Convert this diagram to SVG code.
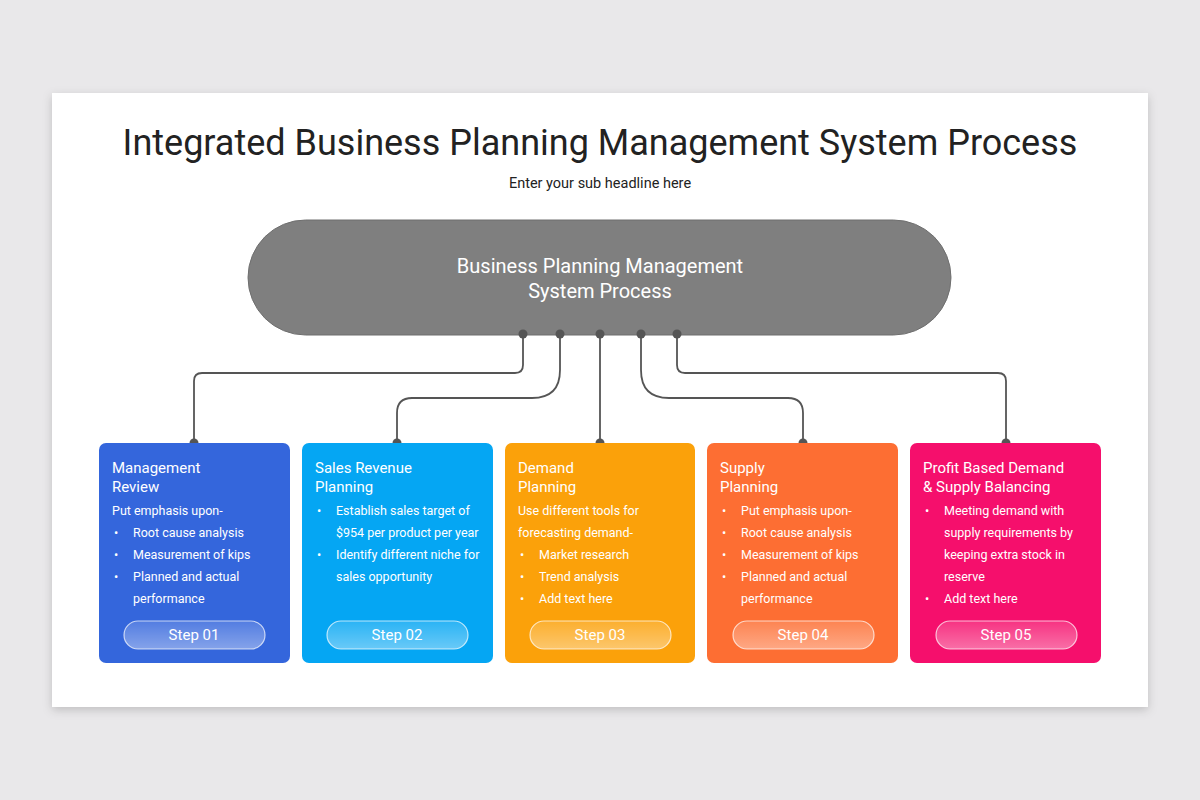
<svg xmlns="http://www.w3.org/2000/svg" width="1200" height="800" viewBox="0 0 1200 800">
<defs>
<filter id="sh" x="-5%" y="-5%" width="110%" height="115%"><feDropShadow dx="0" dy="3" stdDeviation="5" flood-color="#000" flood-opacity="0.18"/></filter>
<linearGradient id="pill" x1="0" y1="0" x2="0" y2="1"><stop offset="0" stop-color="#fff" stop-opacity="0.15"/><stop offset="1" stop-color="#fff" stop-opacity="0.4"/></linearGradient>
</defs>
<style>
text{font-family:Roboto,"Liberation Sans",sans-serif}
.t{fill:#fff;font-size:15px}
.b{fill:#fff;font-size:12.5px}
.s{fill:#fff;font-size:15px;text-anchor:middle}
.pl{fill:url(#pill);stroke:#fff;stroke-opacity:0.7;stroke-width:1.2}
.c{fill:none;stroke:#555;stroke-width:1.8}
.d{fill:#555}
</style>
<rect width="1200" height="800" fill="#e9e8ea"/>
<rect x="52" y="93" width="1096" height="614" fill="#fff" filter="url(#sh)"/>
<text x="600" y="155" text-anchor="middle" font-size="36" fill="#222">Integrated Business Planning Management System Process</text>
<text x="600" y="188" text-anchor="middle" font-size="14.5" fill="#222">Enter your sub headline here</text>
<g id="hub">
<rect x="248" y="220" width="703" height="115" rx="57.5" fill="#7f7f7f" stroke="#6f6f6f"/>
<text x="600" y="273" text-anchor="middle" font-size="20" fill="#fff">Business Planning Management</text>
<text x="600" y="298" text-anchor="middle" font-size="20" fill="#fff">System Process</text>
</g>
<g id="connectors">
<path class="c" d="M523 334 V365 Q523 373 515 373 H202 Q194 373 194 381 V443"/>
<path class="c" d="M560 334 V370 Q560 398 532 398 H412 Q397 398 397 413 V443"/>
<line class="c" x1="600" y1="334" x2="600" y2="443"/>
<path class="c" d="M641 334 V370 Q641 398 669 398 H788 Q803 398 803 413 V443"/>
<path class="c" d="M677 334 V365 Q677 373 685 373 H998 Q1006 373 1006 381 V443"/>
<circle class="d" cx="523" cy="334" r="4.5"/><circle class="d" cx="560" cy="334" r="4.5"/><circle class="d" cx="600" cy="334" r="4.5"/><circle class="d" cx="641" cy="334" r="4.5"/><circle class="d" cx="677" cy="334" r="4.5"/>
<circle class="d" cx="194" cy="443" r="4.5"/><circle class="d" cx="397" cy="443" r="4.5"/><circle class="d" cx="600" cy="443" r="4.5"/><circle class="d" cx="803" cy="443" r="4.5"/><circle class="d" cx="1006" cy="443" r="4.5"/>
</g>
<g id="card1">
<rect x="99" y="443" width="191" height="220" rx="7" fill="#3466dc"/>
<text class="t" x="112" y="473">Management</text><text class="t" x="112" y="492">Review</text>
<text class="b" x="112" y="515">Put emphasis upon-</text>
<text class="b" x="114" y="537">•</text><text class="b" x="133" y="537">Root cause analysis</text>
<text class="b" x="114" y="559">•</text><text class="b" x="133" y="559">Measurement of kips</text>
<text class="b" x="114" y="581">•</text><text class="b" x="133" y="581">Planned and actual</text>
<text class="b" x="133" y="603">performance</text>
<rect class="pl" x="124" y="621" width="141" height="28" rx="14"/><text class="s" x="194" y="640">Step 01</text>
</g>
<g id="card2">
<rect x="302" y="443" width="191" height="220" rx="7" fill="#05a6f3"/>
<text class="t" x="315" y="473">Sales Revenue</text><text class="t" x="315" y="492">Planning</text>
<text class="b" x="317" y="515">•</text><text class="b" x="336" y="515">Establish sales target of</text>
<text class="b" x="336" y="537">$954 per product per year</text>
<text class="b" x="317" y="559">•</text><text class="b" x="336" y="559">Identify different niche for</text>
<text class="b" x="336" y="581">sales opportunity</text>
<rect class="pl" x="327" y="621" width="141" height="28" rx="14"/><text class="s" x="397" y="640">Step 02</text>
</g>
<g id="card3">
<rect x="505" y="443" width="190" height="220" rx="7" fill="#fba10a"/>
<text class="t" x="518" y="473">Demand</text><text class="t" x="518" y="492">Planning</text>
<text class="b" x="518" y="515">Use different tools for</text>
<text class="b" x="518" y="537">forecasting demand-</text>
<text class="b" x="520" y="559">•</text><text class="b" x="539" y="559">Market research</text>
<text class="b" x="520" y="581">•</text><text class="b" x="539" y="581">Trend analysis</text>
<text class="b" x="520" y="603">•</text><text class="b" x="539" y="603">Add text here</text>
<rect class="pl" x="530" y="621" width="141" height="28" rx="14"/><text class="s" x="600" y="640">Step 03</text>
</g>
<g id="card4">
<rect x="707" y="443" width="191" height="220" rx="7" fill="#fd6e33"/>
<text class="t" x="720" y="473">Supply</text><text class="t" x="720" y="492">Planning</text>
<text class="b" x="722" y="515">•</text><text class="b" x="741" y="515">Put emphasis upon-</text>
<text class="b" x="722" y="537">•</text><text class="b" x="741" y="537">Root cause analysis</text>
<text class="b" x="722" y="559">•</text><text class="b" x="741" y="559">Measurement of kips</text>
<text class="b" x="722" y="581">•</text><text class="b" x="741" y="581">Planned and actual</text>
<text class="b" x="741" y="603">performance</text>
<rect class="pl" x="733" y="621" width="141" height="28" rx="14"/><text class="s" x="803" y="640">Step 04</text>
</g>
<g id="card5">
<rect x="910" y="443" width="191" height="220" rx="7" fill="#f50f6c"/>
<text class="t" x="923" y="473">Profit Based Demand</text><text class="t" x="923" y="492">&amp; Supply Balancing</text>
<text class="b" x="925" y="515">•</text><text class="b" x="944" y="515">Meeting demand with</text>
<text class="b" x="944" y="537">supply requirements by</text>
<text class="b" x="944" y="559">keeping extra stock in</text>
<text class="b" x="944" y="581">reserve</text>
<text class="b" x="925" y="603">•</text><text class="b" x="944" y="603">Add text here</text>
<rect class="pl" x="936" y="621" width="141" height="28" rx="14"/><text class="s" x="1006" y="640">Step 05</text>
</g>
</svg>
